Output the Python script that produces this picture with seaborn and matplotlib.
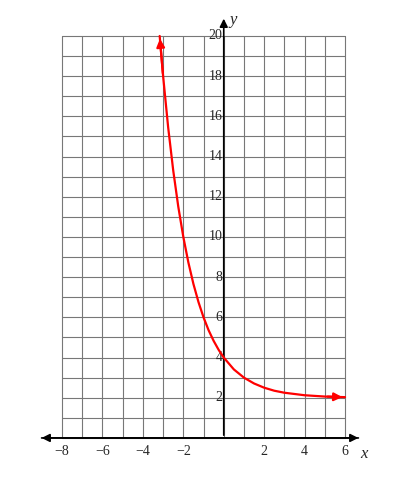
import matplotlib
matplotlib.use("Agg")
import matplotlib.pyplot as plt
import seaborn as sns
import pandas as pd

# points
curve_x = [-3.17, -3.0, -2.75, -2.5, -2.25, -2.0, -1.75, -1.5, -1.25, -1.0, -0.75, -0.5, -0.25,
           0.0, 0.5, 1.0, 1.5, 2.0, 2.5, 3.0, 4.0, 5.0, 6.0]
curve_y = [20.0, 18.0, 15.45, 13.31, 11.51, 10.0, 8.73, 7.66, 6.76, 6.0, 5.36, 4.83, 4.38,
           4.0, 3.41, 3.0, 2.71, 2.5, 2.35, 2.25, 2.125, 2.06, 2.03]
x_ticks = [-8, -6, -4, -2, 2, 4, 6]
y_ticks = [2, 4, 6, 8, 10, 12, 14, 16, 18, 20]

sns.set_style("white")
plt.rcParams["font.family"] = ["Liberation Serif", "DejaVu Serif"]

fig = plt.figure(figsize=(4.19, 4.88), dpi=100)
ax = fig.add_axes([0, 0, 1, 1])
ax.set_xlim(-11.07, 9.66)
ax.set_ylim(-2.49, 21.79)
ax.axis("off")

# grid
for gx in range(-8, 7):
    ax.plot([gx, gx], [0, 20], color="#777777", lw=0.8, zorder=1)
for gy in range(0, 21):
    ax.plot([-8, 6], [gy, gy], color="#777777", lw=0.8, zorder=1)

# axes with arrows
ax.annotate("", xy=(-9.15, 0), xytext=(6.8, 0),
            arrowprops=dict(arrowstyle="-|>", color="black", lw=1.2, mutation_scale=12))
ax.annotate("", xy=(6.8, 0), xytext=(-9.15, 0),
            arrowprops=dict(arrowstyle="-|>", color="black", lw=1.2, mutation_scale=12))
ax.annotate("", xy=(0, 21.0), xytext=(0, 0),
            arrowprops=dict(arrowstyle="-|>", color="black", lw=1.2, mutation_scale=12))

for t in x_ticks:
    ax.text(t, -0.35, str(t).replace("-", "\u2212"), ha="center", va="top", fontsize=10)
for t in y_ticks:
    ax.text(-0.05, t, str(t), ha="right", va="center", fontsize=10)
ax.text(6.75, -0.4, "x", style="italic", ha="left", va="top", fontsize=12)
ax.text(0.3, 20.8, "y", style="italic", ha="left", va="center", fontsize=12)

df = pd.DataFrame({"x": curve_x, "y": curve_y})
sns.lineplot(data=df, x="x", y="y", ax=ax, color="red", lw=1.6, sort=False, zorder=3)
ax.annotate("", xy=(curve_x[0], curve_y[0]), xytext=(curve_x[1], curve_y[1]),
            arrowprops=dict(arrowstyle="-|>", color="red", lw=1.6, mutation_scale=12))
ax.annotate("", xy=(curve_x[-1], curve_y[-1]), xytext=(curve_x[-2], curve_y[-2]),
            arrowprops=dict(arrowstyle="-|>", color="red", lw=1.6, mutation_scale=12))
ax.axis("off")

fig.savefig("out.png", dpi=100)
